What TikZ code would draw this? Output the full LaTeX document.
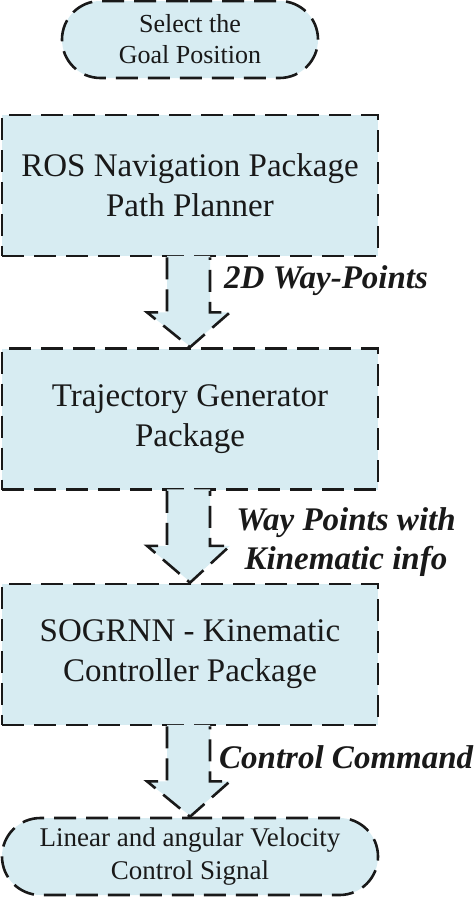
\documentclass[tikz,border=0pt]{standalone}
\usepackage{fontspec}
\setmainfont{Liberation Serif}
\usetikzlibrary{calc,shapes.misc}
\definecolor{boxfill}{RGB}{215,236,242}
\definecolor{ink}{RGB}{25,25,25}
\tikzset{
  dashline/.style={draw=ink, line width=2.6pt, dash pattern=on 22pt off 10pt},
  bigbox/.style={dashline, fill=boxfill, rectangle, minimum width=376pt, minimum height=141pt,
    inner sep=0pt, align=center, text=ink, font=\fontsize{33}{40}\selectfont},
  endbox/.style={dashline, fill=boxfill, rounded rectangle, rounded rectangle arc length=180,
    inner sep=0pt, align=center, text=ink},
  flowlabel/.style={align=center, text=ink, inner sep=0pt, font=\fontsize{33}{39}\selectfont\bfseries\itshape},
  arrowfill/.style={fill=boxfill, draw=none},
}
\newcommand{\fatarrow}[2]{%
  \path[arrowfill] ($(#1.south)+(-23,-1.5)$) -- ($(#1.south)+(-23,55)$) -- ($(#1.south)+(-43,55)$)
    -- ($(#2.north)+(0,-1)$) -- ($(#1.south)+(40,55)$) -- ($(#1.south)+(20,55)$) -- ($(#1.south)+(20,-1.5)$) -- cycle;
  \draw[dashline, line join=miter] ($(#1.south)+(-23,0)$) -- ($(#1.south)+(-23,55)$) -- ($(#1.south)+(-43,55)$)
    -- (#2.north) -- ($(#1.south)+(40,55)$) -- ($(#1.south)+(20,55)$) -- ($(#1.south)+(20,0)$);
}
\begin{document}
\begin{tikzpicture}[x=1pt,y=-1pt]
\useasboundingbox (0,0) rectangle (474,897);
\node[endbox, minimum width=256pt, minimum height=77pt, font=\fontsize{26}{31}\selectfont] (goal) at (190,39.5) {Select the\\Goal Position};
\node[bigbox] (ros) at (190,185.5) {ROS Navigation Package\\Path Planner};
\node[bigbox] (traj) at (190,419) {Trajectory Generator\\Package};
\node[bigbox] (sog) at (190,654.5) {SOGRNN - Kinematic\\Controller Package};
\node[endbox, minimum width=376pt, minimum height=77pt, font=\fontsize{27}{33}\selectfont] (out) at (190,856.5) {Linear and angular Velocity\\Control Signal};
\fatarrow{ros}{traj}
\fatarrow{traj}{sog}
\fatarrow{sog}{out}
\node[flowlabel, anchor=west] (l1) at (224,281) {2D Way-Points};
\node[flowlabel] (l2) at (346,542) {Way Points with\\Kinematic info};
\node[flowlabel, anchor=west] (l3) at (219,757) {Control Command};
\end{tikzpicture}
\end{document}
